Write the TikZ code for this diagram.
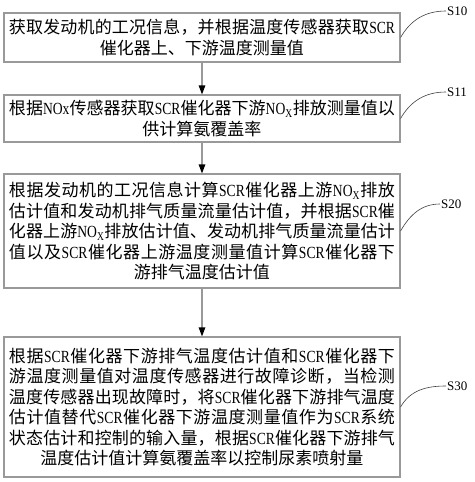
\documentclass[tikz,border=0pt]{standalone}
\usepackage{fontspec}
\newfontfamily\cjk{Noto Sans CJK SC}
\newfontfamily\latfont[FakeStretch=0.8]{Liberation Serif}
\newfontfamily\labfont{Liberation Serif}
\usetikzlibrary{arrows.meta}

\definecolor{boxgray}{gray}{0.6}

\newcommand{\scr}{{\latfont SCR}}
\newcommand{\noxsub}{{\latfont NO\textsubscript{X}}}
\newcommand{\noxlow}{{\latfont NOx}}

% a full line, spread over the width of the box
\def\spreadstop{\relax spreadstop}
\def\gobblearg#1{}
\def\spreadchars#1#2{#1\ifx\spreadstop#2\expandafter\gobblearg\else\hfil\expandafter\spreadchars\fi{#2}}
\newcommand{\fullline}[1]{\hbox to 386pt{\spreadchars#1\spreadstop}}

\begin{document}
\begin{tikzpicture}[x=1pt, y=-1pt,
  stepbox/.style={draw=boxgray, line width=1.1pt, align=center, minimum width=396pt, inner xsep=5pt, inner ysep=0pt,
    font=\cjk\fontsize{17}{20.5}\selectfont},
  flow/.style={draw=boxgray, line width=1.1pt, -{Triangle[length=9pt, width=6.5pt, black]}},
  callout/.style={draw=black!75, line width=0.6pt},
  steplabel/.style={font=\labfont\fontsize{13}{13}\selectfont, anchor=west, inner sep=1pt}]

  \useasboundingbox (0,0) rectangle (474,482);

  % steps
  \node[stepbox, minimum height=49pt] (s10) at (202,37.5)
  {\fullline{获取发动机的工况信息，并根据温度传感器获取\scr}\\
   催化器上、下游温度测量值};
  \node[stepbox, minimum height=47pt] (s11) at (202,118.5)
  {\fullline{根据\noxlow 传感器获取\scr 催化器下游\noxsub 排放测量值以}\\
   供计算氨覆盖率};
  \node[stepbox, minimum height=114pt] (s20) at (202,231)
  {\fullline{根据发动机的工况信息计算\scr 催化器上游\noxsub 排放}\\
   \fullline{估计值和发动机排气质量流量估计值，并根据\scr 催}\\
   \fullline{化器上游\noxsub 排放估计值、发动机排气质量流量估计}\\
   \fullline{值以及\scr 催化器上游温度测量值计算\scr 催化器下}\\
   游排气温度估计值};
  \node[stepbox, minimum height=140pt] (s30) at (202,407)
  {\fullline{根据\scr 催化器下游排气温度估计值和\scr 催化器下}\\
   \fullline{游温度测量值对温度传感器进行故障诊断，当检测}\\
   \fullline{温度传感器出现故障时，将\scr 催化器下游排气温度}\\
   \fullline{估计值替代\scr 催化器下游温度测量值作为\scr 系统}\\
   \fullline{状态估计和控制的输入量，根据\scr 催化器下游排气}\\
   温度估计值计算氨覆盖率以控制尿素喷射量};

  % flow arrows
  \draw[flow] (s10) -- (s11);
  \draw[flow] (s11) -- (s20);
  \draw[flow] (s20) -- (s30);

  % step labels
  \node[steplabel] (l10) at (446,11) {S10};
  \node[steplabel] (l11) at (446,92) {S11};
  \node[steplabel] (l20) at (440,204) {S20};
  \node[steplabel] (l30) at (446,386) {S30};

  \draw[callout] (s10.east) to[out=60, in=180] (l10.west);
  \draw[callout] (s11.east) to[out=60, in=180] (l11.west);
  \draw[callout] (s20.east) to[out=60, in=180] (l20.west);
  \draw[callout] (s30.east) to[out=60, in=180] (l30.west);
\end{tikzpicture}
\end{document}
